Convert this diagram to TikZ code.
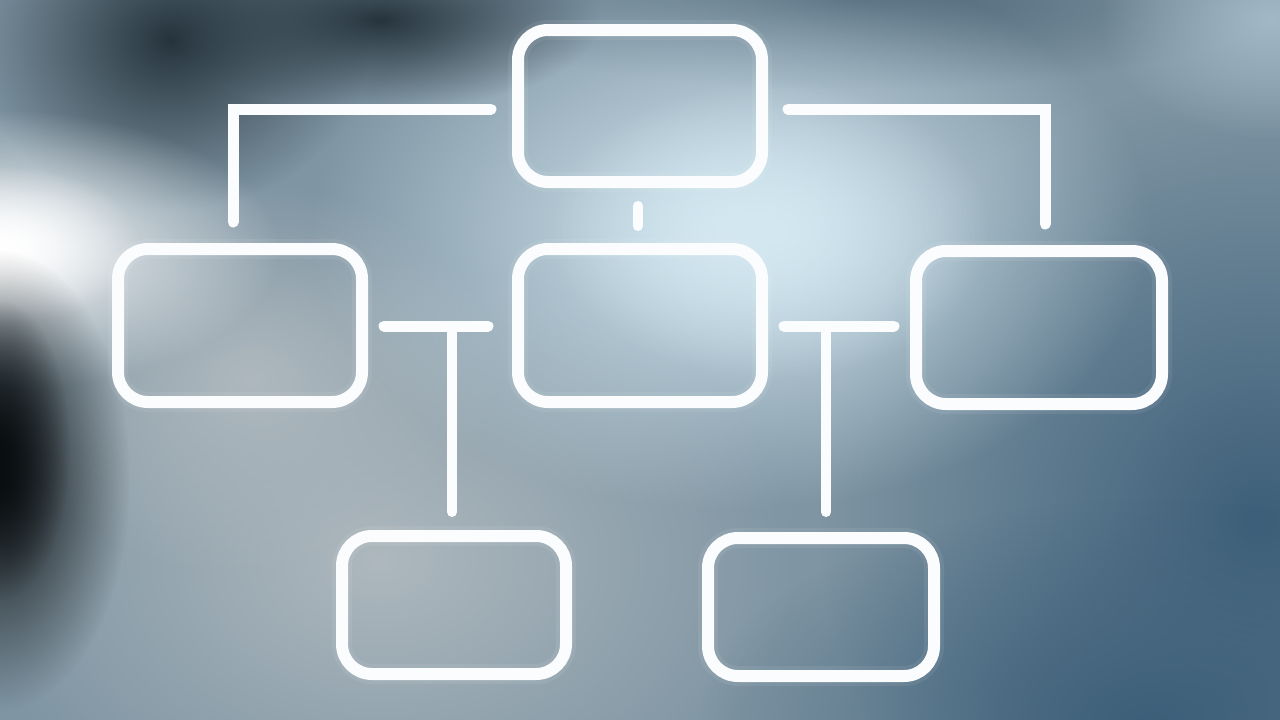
\documentclass[tikz,border=0pt]{standalone}
\usetikzlibrary{fadings}
\tikzfading[name=glowfade, inner color=transparent!0, outer color=transparent!100]
\definecolor{basebg}{HTML}{7F95A3}
\definecolor{glowblue}{HTML}{D3E8F1}
\definecolor{darktl}{HTML}{26343D}
\definecolor{blackbl}{HTML}{0A0E10}
\definecolor{deepblue}{HTML}{3D5F79}
\definecolor{topband}{HTML}{4D6577}
\definecolor{lighttr}{HTML}{A3B8C6}
\definecolor{greybot}{HTML}{AEB8BE}
\definecolor{linewhite}{HTML}{FAFCFD}
\tikzset{
  glow/.style={fill=#1, path fading=glowfade},
  chartbox/.style={draw=linewhite, line width=12pt, rounded corners=30pt, inner sep=0pt},
  halo/.style={draw=white, line width=20pt, rounded corners=30pt, inner sep=0pt, draw opacity=0.07},
  link/.style={draw=linewhite, line width=11pt, line cap=round},
  thinlink/.style={draw=linewhite, line width=10pt, line cap=round},
}
\begin{document}
\begin{tikzpicture}[x=1pt,y=-1pt]
\useasboundingbox (0,0) rectangle (1280,720);
% background
\fill[basebg] (0,0) rectangle (1280,720);
\begin{scope}
\clip (0,0) rectangle (1280,720);
\fill[glow=greybot] (380,560) ellipse (420 and 300);
\fill[glow=greybot] (250,380) ellipse (250 and 200);
\fill[glow=deepblue] (1260,520) ellipse (440 and 440);
\fill[glow=deepblue] (1150,720) ellipse (450 and 220);
\fill[glow=topband] (850,0) ellipse (420 and 90);
\fill[glow=glowblue] (730,230) ellipse (420 and 280);
\fill[glow=glowblue] (770,230) ellipse (220 and 150);
\fill[glow=darktl] (170,40) ellipse (200 and 170);
\fill[glow=darktl] (380,20) ellipse (220 and 90);
\fill[glow=lighttr] (1270,20) ellipse (170 and 120);
\fill[glow=white] (0,250) ellipse (280 and 140);
\fill[glow=white] (0,245) ellipse (140 and 80);
\fill[glow=blackbl] (0,480) ellipse (130 and 230);
\fill[glow=blackbl] (0,450) ellipse (70 and 150);
\end{scope}
% halos
\foreach \p/\w/\h in {{(640,106)}/244/152, {(240,325.5)}/244/153, {(640,325.5)}/244/153, {(1039,327.5)}/246/153, {(454,605)}/224/138, {(821,607)}/226/138}
  \node[halo, minimum width=\w pt, minimum height=\h pt] at \p {};
% boxes
\node[chartbox, minimum width=244pt, minimum height=152pt] (top) at (640,106) {};
\node[chartbox, minimum width=244pt, minimum height=153pt] (midl) at (240,325.5) {};
\node[chartbox, minimum width=244pt, minimum height=153pt] (midc) at (640,325.5) {};
\node[chartbox, minimum width=246pt, minimum height=153pt] (midr) at (1039,327.5) {};
\node[chartbox, minimum width=224pt, minimum height=138pt] (botl) at (454,605) {};
\node[chartbox, minimum width=226pt, minimum height=138pt] (botr) at (821,607) {};
% connector coordinates
\coordinate (la) at (491,109);
\coordinate (lb) at (233,109);
\coordinate (lc) at (233,222);
\coordinate (ra) at (788,109);
\coordinate (rb) at (1045,109);
\coordinate (rc) at (1045,224);
\coordinate (ca) at (638,206);
\coordinate (cb) at (638,226);
\coordinate (tla) at (384,326);
\coordinate (tlb) at (488,326);
\coordinate (tlm) at (452,326);
\coordinate (tld) at (452,512);
\coordinate (tra) at (784,326);
\coordinate (trb) at (894,326);
\coordinate (trm) at (826,326);
\coordinate (trd) at (826,512);
% connectors
\draw[link] (la) -- (lb) -- (lc);
\draw[link] (ra) -- (rb) -- (rc);
\draw[thinlink] (ca) -- (cb);
\draw[link] (tla) -- (tlb);
\draw[thinlink] (tlm) -- (tld);
\draw[link] (tra) -- (trb);
\draw[thinlink] (trm) -- (trd);
\end{tikzpicture}
\end{document}
